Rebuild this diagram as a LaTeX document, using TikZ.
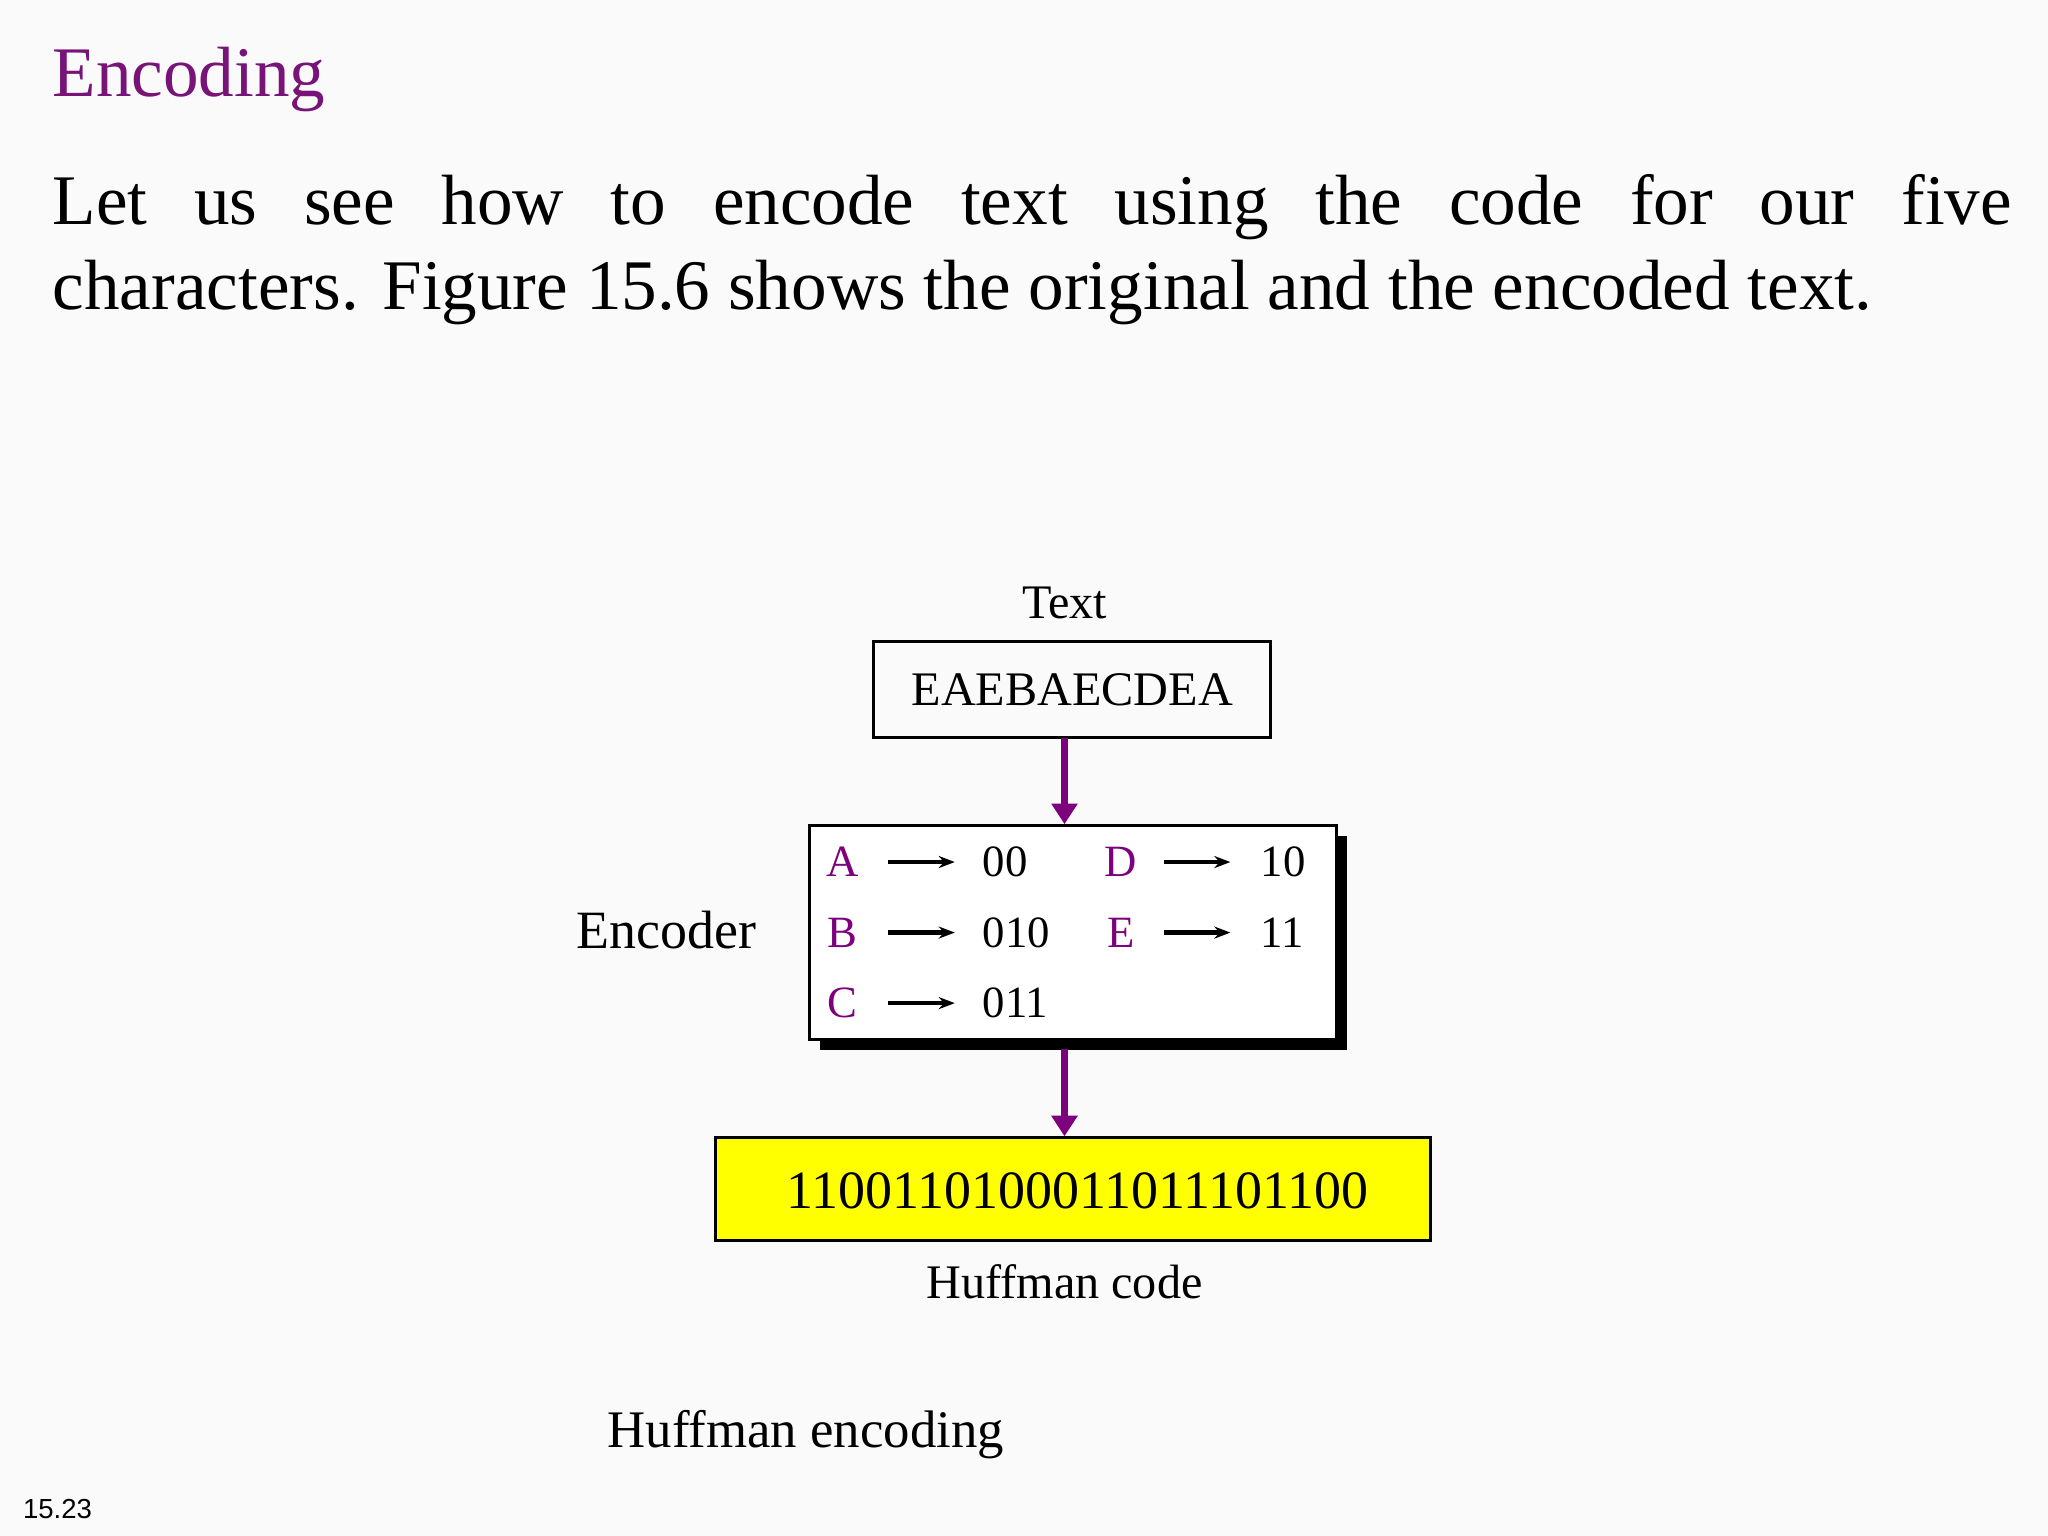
\documentclass[tikz,border=0pt]{standalone}
\usepackage{fontspec}
\setmainfont{Liberation Serif}
\setsansfont{Liberation Sans}
\usetikzlibrary{arrows.meta}
\definecolor{ttl}{RGB}{120,20,120}
\definecolor{arr}{RGB}{125,0,125}
\definecolor{yel}{RGB}{255,255,0}
\tikzset{
  lbl/.style={font=\fontsize{21}{24}\selectfont,inner sep=0pt},
  code/.style={font=\fontsize{19.5}{22}\selectfont,inner sep=0pt},
  let/.style={code,text=arr},
  flow/.style={arr,line width=3.4pt,-{Triangle[length=9pt,width=11pt]}},
  map/.style={line width=2pt,-{Stealth[length=7pt]}},
  box/.style={draw,line width=1.3pt,inner sep=0pt}
}
\begin{document}
\begin{tikzpicture}[x=0.02cm,y=-0.02cm]
\fill[white!98!black] (0,0) rectangle (1568,1176);
\node[anchor=base west,inner sep=0pt,text=ttl,font=\fontsize{31}{34}\selectfont] (title) at (40,74) {Encoding};
\node[anchor=base west,inner sep=0pt,text width=1500*0.02cm,align=justify,font=\fontsize{31}{37}\selectfont] (para1) at (40,172)
 {\parfillskip=0pt Let us see how to encode text using the code for our five\par};
\node[anchor=base west,inner sep=0pt,font=\fontsize{31}{37}\selectfont] (para2) at (40,237)
 {characters. Figure 15.6 shows the original and the encoded text.};
\node[lbl] (txtlbl) at (815,462) {Text};
\node[box,minimum width=304*0.02cm,minimum height=74*0.02cm,lbl] (tb) at (821,528) {EAEBAECDEA};
\fill[black] (628,640) rectangle (1031,804);
\node[box,fill=white,minimum width=403*0.02cm,minimum height=164*0.02cm] (enc) at (821.5,714) {};
\node[lbl,font=\fontsize{23.5}{26}\selectfont] (enclbl) at (510,712) {Encoder};
\foreach \l/\c/\y [count=\i] in {A/00/660,B/010/714,C/011/768}{
  \node[let] (l\i) at (645,\y) {\l};
  \coordinate (a\i) at (680,\y); \coordinate (b\i) at (731,\y);
  \draw[map] (a\i) -- (b\i);
  \node[code,anchor=west] (c\i) at (752,\y) {\c};
}
\foreach \l/\c/\y [count=\i] in {D/10/660,E/11/714}{
  \node[let] (m\i) at (858,\y) {\l};
  \coordinate (d\i) at (891,\y); \coordinate (e\i) at (942,\y);
  \draw[map] (d\i) -- (e\i);
  \node[code,anchor=west] (k\i) at (965,\y) {\c};
}
\node[box,fill=yel,minimum width=547*0.02cm,minimum height=79*0.02cm] (out) at (821.5,910.5) {};
\node[lbl,font=\fontsize{23.5}{26}\selectfont] (bits) at (825,912) {1100110100011011101100};
\node[lbl] (hc) at (815,981) {Huffman code};
\coordinate (f1) at (815,565); \coordinate (f2) at (815,631);
\coordinate (g1) at (815,803); \coordinate (g2) at (815,870);
\draw[flow] (f1) -- (f2);
\draw[flow] (g1) -- (g2);
\node[lbl,font=\fontsize{23}{26}\selectfont] (cap) at (617,1098) {Huffman encoding};
\node[inner sep=0pt,font=\sffamily\fontsize{12}{14}\selectfont] (num) at (44,1155) {15.23};
\end{tikzpicture}
\end{document}
